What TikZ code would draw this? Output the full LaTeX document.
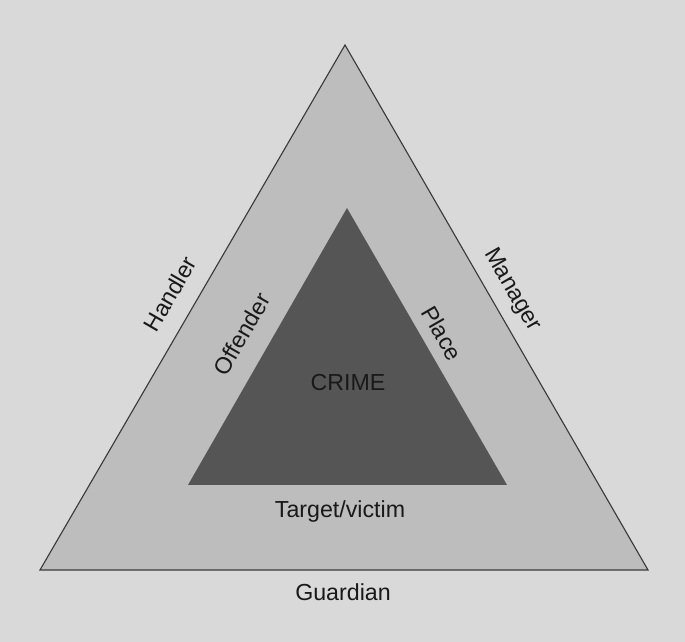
\documentclass[tikz,border=0pt]{standalone}
\usepackage{fontspec}
\setmainfont{Liberation Sans}
\definecolor{bgcol}{HTML}{D9D9D9}
\definecolor{outercol}{HTML}{BDBDBD}
\definecolor{innercol}{HTML}{555555}
\definecolor{edgecol}{HTML}{3A3A3A}
\tikzset{
lbl/.style={
  font=\fontsize{16.5}{19}\selectfont,
  text=black!90,
  inner sep=0pt
  }
}

\begin{document}
\begin{tikzpicture}[x=0.025cm, y=-0.025cm]
\fill[bgcol] (0,0) rectangle (685,642);
\useasboundingbox (0,0) rectangle (685,642);

\coordinate (otop) at (345,45);
\coordinate (oleft) at (40,570);
\coordinate (oright) at (648,570);
\coordinate (itop) at (347,208);
\coordinate (ileft) at (188,485);
\coordinate (iright) at (507,485);

\filldraw[fill=outercol, draw=edgecol, line width=0.8pt]
  (otop) -- (oright) -- (oleft) -- cycle;
\fill[innercol]
  (itop) -- (iright) -- (ileft) -- cycle;

\node[lbl] (crime) at (348,383) {CRIME};
\node[lbl] (target) at (340,512) {Target/victim};
\node[lbl] (guardian) at (343,592) {Guardian};
\node[lbl, rotate=60] (handler) at (170,294) {Handler};
\node[lbl, rotate=60] (offender) at (242,334) {Offender};
\node[lbl, rotate=-60] (place) at (442,333) {Place};
\node[lbl, rotate=-60] (manager) at (512,290) {Manager};
\end{tikzpicture}
\end{document}
